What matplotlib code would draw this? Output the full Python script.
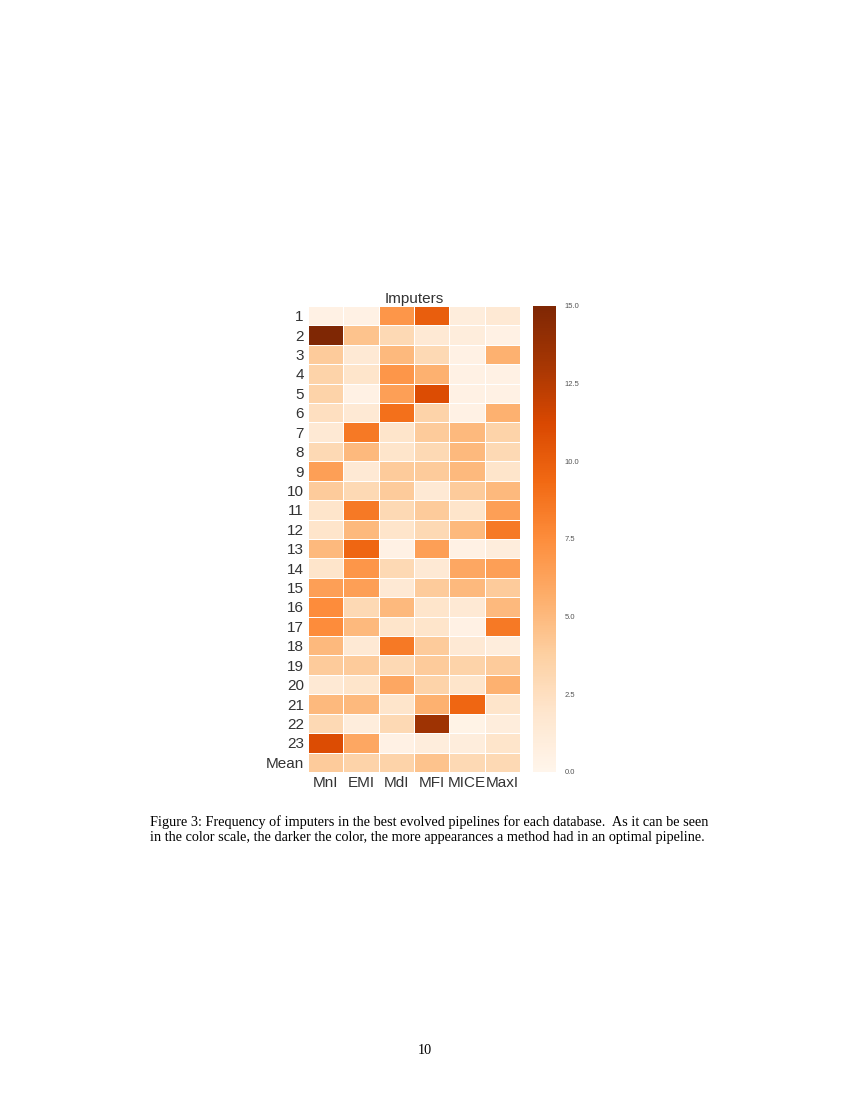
import numpy as np
import matplotlib
matplotlib.use("Agg")
import matplotlib.pyplot as plt
from matplotlib.ticker import FormatStrFormatter

methods = ["MnI", "EMI", "MdI", "MFI", "MICE", "MaxI"]
rows = [str(i) for i in range(1, 24)] + ["Mean"]

mni  = [0.5, 15, 4, 3.5, 3.5, 2.5, 1.5, 3, 6.5, 4, 2, 2, 5, 2, 6.5, 7.5, 7.5, 5, 4, 1.5, 5, 3, 11, 4]
emi  = [0.5, 4.5, 1.5, 2, 0.5, 1.5, 8.5, 5, 1.5, 3, 8.5, 5, 9.5, 7, 6.5, 3, 5, 1.5, 4, 2, 5, 1, 6, 3.5]
mdi  = [7, 3, 5, 7, 6.5, 9, 2, 2, 4, 4, 3, 2, 0.5, 3, 1.5, 5, 2, 8.5, 3, 6, 2, 3, 0.5, 3.5]
mfi  = [10, 1.5, 3, 5.5, 11, 3.5, 4, 3, 4, 1.5, 4, 3, 6.5, 1.5, 4, 2, 2, 4, 4, 3.5, 5.5, 13.5, 1, 4.5]
mice = [1, 1, 0.5, 0.5, 0.5, 0.5, 5, 5, 5, 4, 2, 5, 0.5, 6, 5, 1.5, 0.5, 1.5, 3.5, 2, 9.5, 0.3, 1, 3]
maxi = [1.5, 0.5, 5.5, 0.5, 0.5, 5.5, 3.5, 3, 2, 5, 6.5, 8.5, 1, 6.5, 4, 5, 8.5, 1, 4, 5.5, 2, 1, 2, 3]

data = np.array([mni, emi, mdi, mfi, mice, maxi]).T
cbar_ticks = [0.0, 2.5, 5.0, 7.5, 10.0, 12.5, 15.0]

plt.rcParams['font.family'] = ['Liberation Sans', 'DejaVu Sans']

fig = plt.figure(figsize=(8.5, 11), dpi=100)
W, H = 850, 1100
ax = fig.add_axes([308 / W, 1 - 772 / H, (520 - 308) / W, (772 - 306) / H])
cax = fig.add_axes([533 / W, 1 - 772 / H, (556 - 533) / W, (772 - 306) / H])

mesh = ax.pcolormesh(data, cmap="Oranges", vmin=0, vmax=15,
                     edgecolors="white", linewidth=0.5)
ax.set_xlim(0, len(methods))
ax.set_ylim(len(rows), 0)
ax.set_xticks(np.arange(len(methods)) + 0.5)
ax.set_xticklabels(methods, fontsize=11, color="#333333")
ax.set_yticks(np.arange(len(rows)) + 0.5)
ax.set_yticklabels(rows, fontsize=11, color="#333333")
ax.tick_params(length=0, pad=3)
for s in ax.spines.values():
    s.set_visible(False)
ax.set_title("Imputers", fontsize=11, color="#333333", pad=2)

cb = fig.colorbar(mesh, cax=cax)
cb.outline.set_visible(False)
cb.set_ticks(cbar_ticks)
cb.ax.yaxis.set_major_formatter(FormatStrFormatter("%.1f"))
cb.ax.tick_params(length=0, labelsize=5.5, colors="#555555", pad=6)

fig.text(150 / W, 1 - 829.5 / H,
         "Figure 3: Frequency of imputers in the best evolved pipelines for each database.  As it can be seen\n"
         "in the color scale, the darker the color, the more appearances a method had in an optimal pipeline.",
         family="Liberation Serif", fontsize=10.3, va="center", ha="left", linespacing=1.2)
fig.text(425 / W, 1 - 1050 / H, "10", family="Liberation Serif", fontsize=10.3,
         ha="center", va="center")

fig.savefig("out.png", dpi=100)
